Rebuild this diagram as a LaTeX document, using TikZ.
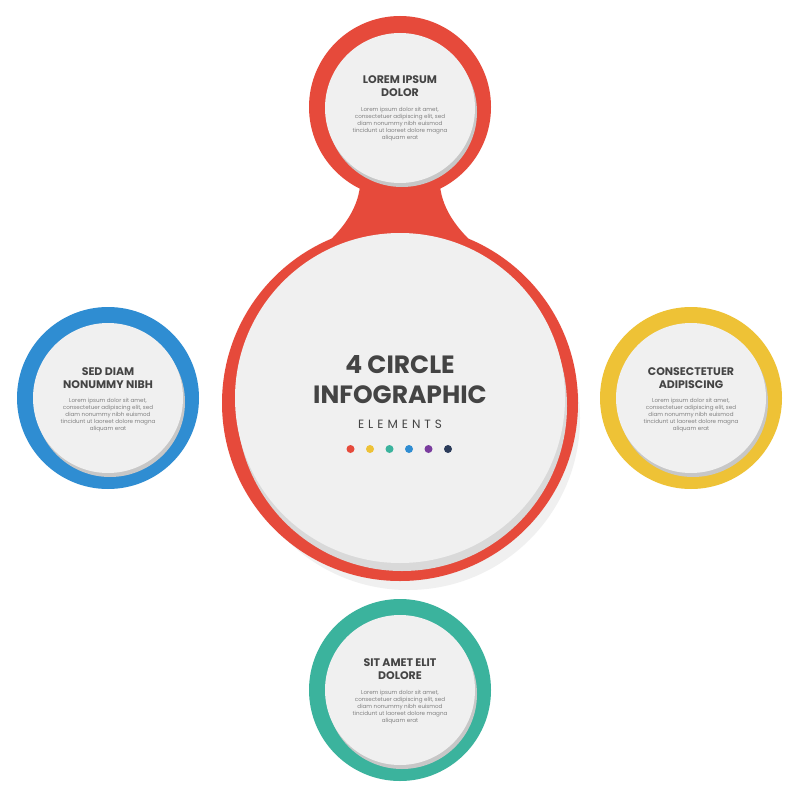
\documentclass[tikz,border=0pt]{standalone}
\usepackage{fontspec}
\setmainfont{Poppins}
\definecolor{cred}{HTML}{E64A3B}
\definecolor{cblue}{HTML}{2F8DD2}
\definecolor{cyellow}{HTML}{EEC236}
\definecolor{cteal}{HTML}{3BB39D}
\definecolor{cpurple}{HTML}{7A3C9E}
\definecolor{cnavy}{HTML}{2B3B5A}
\definecolor{ctext}{HTML}{444444}
\newcommand{\bodytext}{Lorem ipsum dolor sit amet,\\consectetuer adipiscing elit, sed\\diam nonummy nibh euismod\\tincidunt ut laoreet dolore magna\\aliquam erat}
\begin{document}
\begin{tikzpicture}[x=1pt,y=-1pt]
\tikzset{
  ring/.style={circle,minimum size=182pt,inner sep=0pt},
  face/.style={circle,minimum size=150pt,inner sep=0pt,fill=white!94!black},
  shade/.style={circle,minimum size=150pt,inner sep=0pt,fill=black!22},
  title/.style={font=\bfseries\fontsize{11}{13}\selectfont,text=ctext,align=center},
  body/.style={font=\fontsize{5.6}{7}\selectfont,text=black!50,align=center},
  dot/.style={circle,minimum size=8pt,inner sep=0pt}
}
\useasboundingbox (0,0) rectangle (800,800);
\fill[white] (0,0) rectangle (800,800);

% big circle shadow and neck
\fill[black!6] (408,418) circle (172);
\fill[cred] (360,170) .. controls (362,190) and (358,215) .. (325,245) -- (475,245)
  .. controls (442,215) and (438,190) .. (440,170) -- cycle;
\node[ring,fill=cred] (topring) at (400,107) {};
\node[circle,minimum size=356pt,inner sep=0pt,fill=cred] (bigring) at (400,403) {};
\node[circle,minimum size=330pt,inner sep=0pt,fill=black!15] (bigshade) at (402,406) {};
\node[circle,minimum size=330pt,inner sep=0pt,fill=white!94!black] (bigface) at (400,398) {};

% small rings
\node[ring,fill=cblue] (leftring) at (108,398) {};
\node[ring,fill=cyellow] (rightring) at (691,398) {};
\node[ring,fill=cteal] (bottomring) at (400,690) {};
\foreach \n/\x/\y in {top/400/108,left/108/398,right/691/398,bottom/400/690}{
  \node[shade] (\n shade) at (\x+2,\y+4) {};
  \node[face] (\n face) at (\x,\y) {};
}

% texts
\node[title] (toptitle) at (400,86) {LOREM IPSUM\\DOLOR};
\node[body] (topbody) at (400,124) {\bodytext};
\node[title] (lefttitle) at (108,378) {SED DIAM\\NONUMMY NIBH};
\node[body] (leftbody) at (108,415) {\bodytext};
\node[title] (righttitle) at (691,378) {CONSECTETUER\\ADIPISCING};
\node[body] (rightbody) at (691,415) {\bodytext};
\node[title] (bottomtitle) at (400,669) {SIT AMET ELIT\\DOLORE};
\node[body] (bottombody) at (400,707) {\bodytext};

\node[font=\bfseries\fontsize{25}{30}\selectfont,text=ctext,align=center] (maintitle) at (400,380) {4 CIRCLE\\INFOGRAPHIC};
\node[font=\fontsize{12}{14}\selectfont,text=ctext] (subtitle) at (400,424) {E\,\,L\,\,E\,\,M\,\,E\,\,N\,\,T\,\,S};
\foreach \c [count=\i] in {cred,cyellow,cteal,cblue,cpurple,cnavy}
  \node[dot,fill=\c] (dot\i) at (331+\i*19.5,449) {};
\end{tikzpicture}
\end{document}
